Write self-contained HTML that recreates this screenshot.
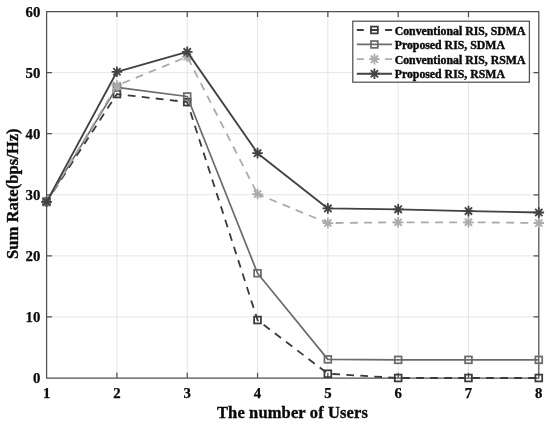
<!DOCTYPE html><html><head><meta charset="utf-8"><title>Sum Rate vs Users</title><style>html,body{margin:0;padding:0;background:#fff}svg{display:block}</style></head><body><svg width="550" height="425" viewBox="0 0 550 425" font-family="'Liberation Serif', serif" font-weight="bold">
<rect width="550" height="425" fill="#fff"/>
<path d="M116.91 11.6V378.0M187.23 11.6V378.0M257.54 11.6V378.0M327.86 11.6V378.0M398.17 11.6V378.0M468.49 11.6V378.0M46.6 316.93H538.8M46.6 255.87H538.8M46.6 194.80H538.8M46.6 133.73H538.8M46.6 72.67H538.8" stroke="#e0e0e0" stroke-width="0.85" fill="none"/>
<path d="M46.6 11.6H538.8V378.0H46.6ZM116.91 378.0v-5.3M116.91 11.6v5.3M187.23 378.0v-5.3M187.23 11.6v5.3M257.54 378.0v-5.3M257.54 11.6v5.3M327.86 378.0v-5.3M327.86 11.6v5.3M398.17 378.0v-5.3M398.17 11.6v5.3M468.49 378.0v-5.3M468.49 11.6v5.3M46.6 316.93h5.3M538.8 316.93h-5.3M46.6 255.87h5.3M538.8 255.87h-5.3M46.6 194.80h5.3M538.8 194.80h-5.3M46.6 133.73h5.3M538.8 133.73h-5.3M46.6 72.67h5.3M538.8 72.67h-5.3" stroke="#505050" stroke-width="1.25" fill="none"/>
<text x="46.60" y="397.6" font-size="14.8" text-anchor="middle" fill="#0a0a0a" stroke="#0a0a0a" stroke-width="0.25">1</text>
<text x="116.91" y="397.6" font-size="14.8" text-anchor="middle" fill="#0a0a0a" stroke="#0a0a0a" stroke-width="0.25">2</text>
<text x="187.23" y="397.6" font-size="14.8" text-anchor="middle" fill="#0a0a0a" stroke="#0a0a0a" stroke-width="0.25">3</text>
<text x="257.54" y="397.6" font-size="14.8" text-anchor="middle" fill="#0a0a0a" stroke="#0a0a0a" stroke-width="0.25">4</text>
<text x="327.86" y="397.6" font-size="14.8" text-anchor="middle" fill="#0a0a0a" stroke="#0a0a0a" stroke-width="0.25">5</text>
<text x="398.17" y="397.6" font-size="14.8" text-anchor="middle" fill="#0a0a0a" stroke="#0a0a0a" stroke-width="0.25">6</text>
<text x="468.49" y="397.6" font-size="14.8" text-anchor="middle" fill="#0a0a0a" stroke="#0a0a0a" stroke-width="0.25">7</text>
<text x="538.80" y="397.6" font-size="14.8" text-anchor="middle" fill="#0a0a0a" stroke="#0a0a0a" stroke-width="0.25">8</text>
<text x="40.4" y="383.00" font-size="14.8" text-anchor="end" fill="#0a0a0a" stroke="#0a0a0a" stroke-width="0.25">0</text>
<text x="40.4" y="321.93" font-size="14.8" text-anchor="end" fill="#0a0a0a" stroke="#0a0a0a" stroke-width="0.25">10</text>
<text x="40.4" y="260.87" font-size="14.8" text-anchor="end" fill="#0a0a0a" stroke="#0a0a0a" stroke-width="0.25">20</text>
<text x="40.4" y="199.80" font-size="14.8" text-anchor="end" fill="#0a0a0a" stroke="#0a0a0a" stroke-width="0.25">30</text>
<text x="40.4" y="138.73" font-size="14.8" text-anchor="end" fill="#0a0a0a" stroke="#0a0a0a" stroke-width="0.25">40</text>
<text x="40.4" y="77.67" font-size="14.8" text-anchor="end" fill="#0a0a0a" stroke="#0a0a0a" stroke-width="0.25">50</text>
<text x="40.4" y="16.60" font-size="14.8" text-anchor="end" fill="#0a0a0a" stroke="#0a0a0a" stroke-width="0.25">60</text>
<text x="292.5" y="418.3" font-size="16.5" letter-spacing="0.13" text-anchor="middle" fill="#0a0a0a" stroke="#0a0a0a" stroke-width="0.35">The number of Users</text>
<text transform="translate(18.2 193.7) rotate(-90)" font-size="16.6" text-anchor="middle" fill="#0a0a0a" stroke="#0a0a0a" stroke-width="0.35">Sum Rate(bps/Hz)</text>
<polyline points="46.60,201.82 116.91,94.04 187.23,102.10 257.54,320.05 327.86,373.73" fill="none" stroke="#3a3a3a" stroke-width="1.8" stroke-dasharray="7.85 6.27" stroke-dashoffset="1.63" stroke-linejoin="round"/>
<polyline points="327.86,373.73 398.17,378.00 468.49,378.00 538.80,378.00" fill="none" stroke="#3a3a3a" stroke-width="1.8" stroke-dasharray="7.7 6.3" stroke-dashoffset="9.5" stroke-linejoin="round"/>
<rect x="43.20" y="198.42" width="6.8" height="6.8" fill="none" stroke="#3a3a3a" stroke-width="1.75"/>
<rect x="113.51" y="90.64" width="6.8" height="6.8" fill="none" stroke="#3a3a3a" stroke-width="1.75"/>
<rect x="183.83" y="98.70" width="6.8" height="6.8" fill="none" stroke="#3a3a3a" stroke-width="1.75"/>
<rect x="254.14" y="316.65" width="6.8" height="6.8" fill="none" stroke="#3a3a3a" stroke-width="1.75"/>
<rect x="324.46" y="370.33" width="6.8" height="6.8" fill="none" stroke="#3a3a3a" stroke-width="1.75"/>
<rect x="394.77" y="374.60" width="6.8" height="6.8" fill="none" stroke="#3a3a3a" stroke-width="1.75"/>
<rect x="465.09" y="374.60" width="6.8" height="6.8" fill="none" stroke="#3a3a3a" stroke-width="1.75"/>
<rect x="535.40" y="374.60" width="6.8" height="6.8" fill="none" stroke="#3a3a3a" stroke-width="1.75"/>
<polyline points="46.60,201.82 116.91,87.32 187.23,96.48 257.54,273.27 327.86,359.37 398.17,359.86 468.49,359.86 538.80,359.86" fill="none" stroke="#6b6b6b" stroke-width="1.7" stroke-linejoin="round"/>
<rect x="43.20" y="198.42" width="6.8" height="6.8" fill="none" stroke="#6b6b6b" stroke-width="1.75"/>
<rect x="113.51" y="83.92" width="6.8" height="6.8" fill="none" stroke="#6b6b6b" stroke-width="1.75"/>
<rect x="183.83" y="93.08" width="6.8" height="6.8" fill="none" stroke="#6b6b6b" stroke-width="1.75"/>
<rect x="254.14" y="269.87" width="6.8" height="6.8" fill="none" stroke="#6b6b6b" stroke-width="1.75"/>
<rect x="324.46" y="355.97" width="6.8" height="6.8" fill="none" stroke="#6b6b6b" stroke-width="1.75"/>
<rect x="394.77" y="356.46" width="6.8" height="6.8" fill="none" stroke="#6b6b6b" stroke-width="1.75"/>
<rect x="465.09" y="356.46" width="6.8" height="6.8" fill="none" stroke="#6b6b6b" stroke-width="1.75"/>
<rect x="535.40" y="356.46" width="6.8" height="6.8" fill="none" stroke="#6b6b6b" stroke-width="1.75"/>
<polyline points="46.60,201.82 116.91,85.49 187.23,56.79 257.54,194.07" fill="none" stroke="#ababab" stroke-width="1.8" stroke-dasharray="7.9 6.32" stroke-dashoffset="0.2" stroke-linejoin="round"/>
<polyline points="257.54,194.07 327.86,223.07 398.17,222.28 468.49,222.28 538.80,223.01" fill="none" stroke="#ababab" stroke-width="1.8" stroke-dasharray="7.9 6.3" stroke-dashoffset="1.3" stroke-linejoin="round"/>
<path d="M41.30 201.82H51.90M46.60 196.52V207.12M42.94 198.17L50.26 205.48M42.94 205.48L50.26 198.17" stroke="#ababab" stroke-width="1.8" fill="none"/>
<path d="M111.61 85.49H122.21M116.91 80.19V90.79M113.26 81.83L120.57 89.15M113.26 89.15L120.57 81.83" stroke="#ababab" stroke-width="1.8" fill="none"/>
<path d="M181.93 56.79H192.53M187.23 51.49V62.09M183.57 53.13L190.89 60.45M183.57 60.45L190.89 53.13" stroke="#ababab" stroke-width="1.8" fill="none"/>
<path d="M252.24 194.07H262.84M257.54 188.77V199.37M253.89 190.41L261.20 197.72M253.89 197.72L261.20 190.41" stroke="#ababab" stroke-width="1.8" fill="none"/>
<path d="M322.56 223.07H333.16M327.86 217.77V228.37M324.20 219.42L331.51 226.73M324.20 226.73L331.51 219.42" stroke="#ababab" stroke-width="1.8" fill="none"/>
<path d="M392.87 222.28H403.47M398.17 216.98V227.58M394.51 218.62L401.83 225.94M394.51 225.94L401.83 218.62" stroke="#ababab" stroke-width="1.8" fill="none"/>
<path d="M463.19 222.28H473.79M468.49 216.98V227.58M464.83 218.62L472.14 225.94M464.83 225.94L472.14 218.62" stroke="#ababab" stroke-width="1.8" fill="none"/>
<path d="M533.50 223.01H544.10M538.80 217.71V228.31M535.14 219.36L542.46 226.67M535.14 226.67L542.46 219.36" stroke="#ababab" stroke-width="1.8" fill="none"/>
<polyline points="46.60,201.82 116.91,71.81 187.23,51.90 257.54,153.15 327.86,208.42 398.17,209.33 468.49,211.10 538.80,212.51" fill="none" stroke="#424242" stroke-width="1.85" stroke-linejoin="round"/>
<path d="M41.30 201.82H51.90M46.60 196.52V207.12M42.94 198.17L50.26 205.48M42.94 205.48L50.26 198.17" stroke="#424242" stroke-width="1.8" fill="none"/>
<path d="M111.61 71.81H122.21M116.91 66.51V77.11M113.26 68.15L120.57 75.47M113.26 75.47L120.57 68.15" stroke="#424242" stroke-width="1.8" fill="none"/>
<path d="M181.93 51.90H192.53M187.23 46.60V57.20M183.57 48.25L190.89 55.56M183.57 55.56L190.89 48.25" stroke="#424242" stroke-width="1.8" fill="none"/>
<path d="M252.24 153.15H262.84M257.54 147.85V158.45M253.89 149.50L261.20 156.81M253.89 156.81L261.20 149.50" stroke="#424242" stroke-width="1.8" fill="none"/>
<path d="M322.56 208.42H333.16M327.86 203.12V213.72M324.20 204.76L331.51 212.07M324.20 212.07L331.51 204.76" stroke="#424242" stroke-width="1.8" fill="none"/>
<path d="M392.87 209.33H403.47M398.17 204.03V214.63M394.51 205.68L401.83 212.99M394.51 212.99L401.83 205.68" stroke="#424242" stroke-width="1.8" fill="none"/>
<path d="M463.19 211.10H473.79M468.49 205.80V216.40M464.83 207.45L472.14 214.76M464.83 214.76L472.14 207.45" stroke="#424242" stroke-width="1.8" fill="none"/>
<path d="M533.50 212.51H544.10M538.80 207.21V217.81M535.14 208.85L542.46 216.17M535.14 216.17L542.46 208.85" stroke="#424242" stroke-width="1.8" fill="none"/>
<rect x="352.8" y="21.2" width="176.60" height="61.00" fill="#fff" stroke="#505050" stroke-width="1.25"/>
<path d="M356.8 30.0h7.0M370.2 30.0h8.4M385.1 30.0h7.0" stroke="#3a3a3a" stroke-width="1.8" fill="none"/>
<rect x="371.00" y="26.60" width="6.8" height="6.8" fill="none" stroke="#3a3a3a" stroke-width="1.75"/>
<text x="394.7" y="34.80" font-size="11.8" fill="#0a0a0a" stroke="#0a0a0a" stroke-width="0.4">Conventional RIS, SDMA</text>
<path d="M356.8 44.45H392.1" stroke="#6b6b6b" stroke-width="1.7" fill="none"/>
<rect x="371.00" y="41.05" width="6.8" height="6.8" fill="none" stroke="#6b6b6b" stroke-width="1.75"/>
<text x="394.7" y="49.10" font-size="11.8" fill="#0a0a0a" stroke="#0a0a0a" stroke-width="0.4">Proposed RIS, SDMA</text>
<path d="M356.8 59.15h7.0M370.2 59.15h8.4M385.1 59.15h7.0" stroke="#ababab" stroke-width="1.8" fill="none"/>
<path d="M369.10 59.15H379.70M374.40 53.85V64.45M370.74 55.49L378.06 62.81M370.74 62.81L378.06 55.49" stroke="#ababab" stroke-width="1.8" fill="none"/>
<text x="394.7" y="63.50" font-size="11.8" fill="#0a0a0a" stroke="#0a0a0a" stroke-width="0.4">Conventional RIS, RSMA</text>
<path d="M356.8 73.7H392.1" stroke="#424242" stroke-width="1.85" fill="none"/>
<path d="M369.10 73.70H379.70M374.40 68.40V79.00M370.74 70.04L378.06 77.36M370.74 77.36L378.06 70.04" stroke="#424242" stroke-width="1.8" fill="none"/>
<text x="394.7" y="77.90" font-size="11.8" fill="#0a0a0a" stroke="#0a0a0a" stroke-width="0.4">Proposed RIS, RSMA</text>
</svg></body></html>
